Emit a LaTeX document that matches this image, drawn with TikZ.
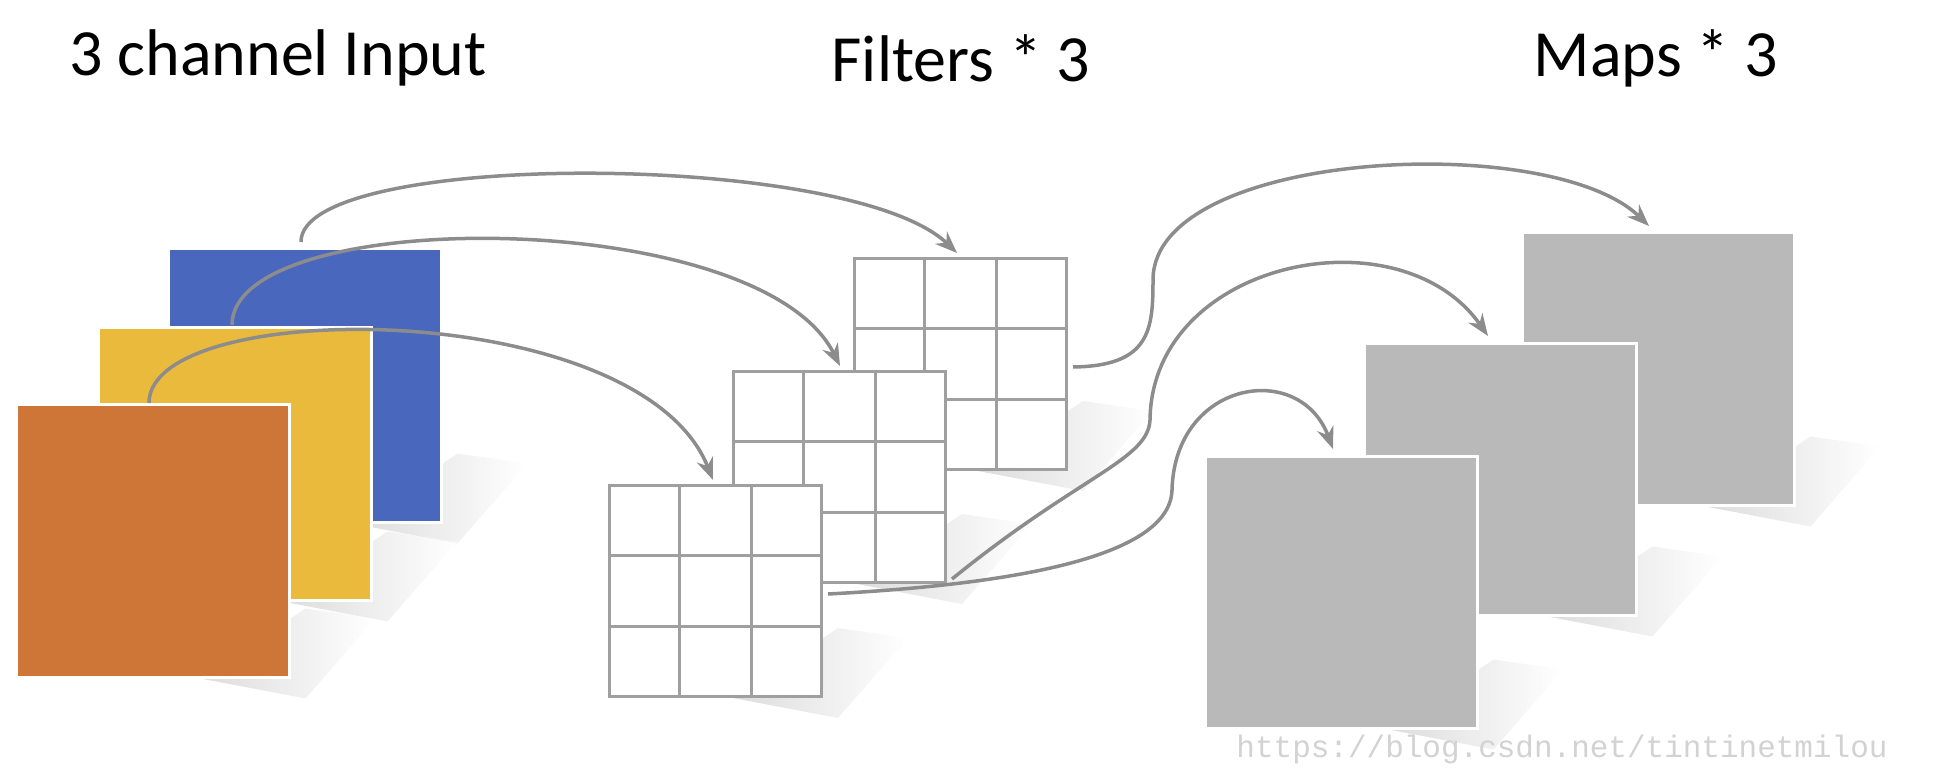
\documentclass[tikz,border=0pt]{standalone}
\usepackage{fontspec}
\setmainfont{Carlito}
\newfontfamily\wmfont{Liberation Mono}
\usetikzlibrary{calc,backgrounds,arrows.meta}

\tikzset{
    sheet/.style={rectangle, anchor=north west, inner sep=0pt, draw=white, line width=2.5pt},
    chan/.style={sheet, minimum width=273pt, minimum height=273pt},
    filt/.style={rectangle, anchor=north west, inner sep=0pt, fill=white, draw=gray!75, line width=3pt, minimum width=212pt, minimum height=211pt},
    fmap/.style={sheet, fill=gray!55, minimum width=272pt, minimum height=272pt},
    link/.style={draw=gray!90, line width=3.5pt, -{Stealth[length=22pt,width=17pt]}},
    title/.style={font=\fontsize{66}{74}\selectfont}
}

\begin{document}
\begin{tikzpicture}[x=1pt,y=-1pt]
        \useasboundingbox (0,0) rectangle (1944,778);

        % Titles
        \node[title] (tin) at (278,58) {3 channel Input};
        \node[title] (tfl) at (961,58) {Filters * 3};
        \node[title] (tmp) at (1656,58) {Maps * 3};

        % Input channels
        \node[chan, fill={rgb,255:red,74;green,103;blue,190}] (blue) at (167,248) {};
        \node[chan, fill={rgb,255:red,234;green,186;blue,60}] (yell) at (97,326) {};
        \node[chan, fill={rgb,255:red,205;green,118;blue,55}] (oran) at (15,403) {};

        % Filters
        \node[filt] (fb) at (853,257) {};
        \foreach \i in {1,2} {
            \draw[gray!75, line width=3pt] ($(fb.north west)!\i/3!(fb.north east)$) -- ($(fb.south west)!\i/3!(fb.south east)$);
            \draw[gray!75, line width=3pt] ($(fb.north west)!\i/3!(fb.south west)$) -- ($(fb.north east)!\i/3!(fb.south east)$);
        }
        \node[filt] (fm) at (732,370) {};
        \foreach \i in {1,2} {
            \draw[gray!75, line width=3pt] ($(fm.north west)!\i/3!(fm.north east)$) -- ($(fm.south west)!\i/3!(fm.south east)$);
            \draw[gray!75, line width=3pt] ($(fm.north west)!\i/3!(fm.south west)$) -- ($(fm.north east)!\i/3!(fm.south east)$);
        }
        \node[filt] (ff) at (608,484) {};
        \foreach \i in {1,2} {
            \draw[gray!75, line width=3pt] ($(ff.north west)!\i/3!(ff.north east)$) -- ($(ff.south west)!\i/3!(ff.south east)$);
            \draw[gray!75, line width=3pt] ($(ff.north west)!\i/3!(ff.south west)$) -- ($(ff.north east)!\i/3!(ff.south east)$);
        }

        % Feature maps
        \node[fmap] (mb) at (1521,232) {};
        \node[fmap] (mm) at (1363,342) {};
        \node[fmap] (mf) at (1204,455) {};

        % Shadows
        \begin{scope}[on background layer]
            \foreach \n in {blue,yell,oran,fb,fm,ff,mb,mm,mf} {
                \shade[left color=gray!60, right color=white, opacity=0.45]
                    ($(\n.south east)+(-90,0)$) -- ($(\n.south east)+(15,-70)$) -- ($(\n.south east)+(85,-60)$) -- ($(\n.south east)+(15,20)$) -- cycle;
            }
        \end{scope}

        % Arrows
        \coordinate (s1) at ($(blue.north west)+(134,-6)$);
        \coordinate (e1) at ($(fb.north west)+(104,-4)$);
        \draw[link] (s1) .. controls (300,150) and (850,150) .. (e1);
        \coordinate (s2) at ($(yell.north west)+(135,-1)$);
        \coordinate (e2) at ($(fm.north west)+(108,-4)$);
        \draw[link] (s2) .. controls (232,205) and (760,205) .. (e2);
        \coordinate (s3) at ($(oran.north west)+(134,0)$);
        \coordinate (e3) at ($(ff.north west)+(105,-4)$);
        \draw[link] (s3) .. controls (149,296) and (640,296) .. (e3);

        \coordinate (s4) at ($(fb.east)+(5,3)$);
        \coordinate (e4) at ($(mb.north west)+(128,-6)$);
        \draw[link] (s4) .. controls (1150,366) and (1153,330) .. (1153,280) .. controls (1153,150) and (1550,130) .. (e4);
        \coordinate (s5) at ($(fm.south east)+(5,-5)$);
        \coordinate (e5) at ($(mm.north west)+(125,-6)$);
        \draw[link] (s5) .. controls (1080,475) and (1148,460) .. (1150,420) .. controls (1152,260) and (1400,210) .. (e5);
        \coordinate (s6) at ($(ff.east)+(5,3)$);
        \coordinate (e6) at ($(mf.north west)+(129,-6)$);
        \draw[link] (s6) .. controls (1000,585) and (1170,560) .. (1172,490) .. controls (1175,380) and (1300,360) .. (e6);

        % Watermark
        \node[font=\wmfont\fontsize{31}{36}\selectfont, text=gray!35] (wm) at (1562,749) {https://blog.csdn.net/tintinetmilou};
\end{tikzpicture}
\end{document}
